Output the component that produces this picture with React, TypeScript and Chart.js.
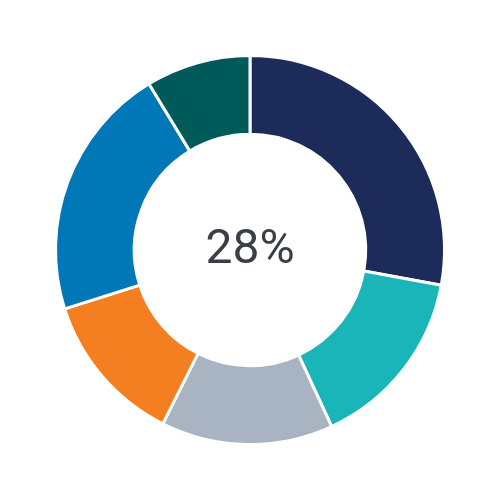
import { useEffect, useRef } from 'react'
import { Chart, registerables, Plugin } from 'chart.js'

Chart.register(...registerables)

const labels = ['Segment A', 'Segment B', 'Segment C', 'Segment D', 'Segment E', 'Segment F']
const values = [27.9, 15.2, 14.3, 12.7, 21.2, 8.7]
const colors = ['#1c2b5a', '#1ab5b8', '#a9b4c2', '#f47f20', '#0077b6', '#005a5a']
const centerLabel = '28%'

const centerText: Plugin<'doughnut'> = {
  id: 'centerText',
  afterDraw(chart) {
    const { ctx, chartArea } = chart
    const cx = (chartArea.left + chartArea.right) / 2
    const cy = (chartArea.top + chartArea.bottom) / 2
    ctx.save()
    ctx.font = '48px Roboto'
    ctx.fillStyle = '#3a3f47'
    ctx.textAlign = 'center'
    ctx.textBaseline = 'alphabetic'
    ctx.fillText(centerLabel, cx, cy + 13)
    ctx.restore()
  },
}

function Donut() {
  const canvasRef = useRef<HTMLCanvasElement>(null)
  const chartRef = useRef<Chart<'doughnut'> | null>(null)

  useEffect(() => {
    if (!canvasRef.current) return
    if (chartRef.current) chartRef.current.destroy()

    chartRef.current = new Chart(canvasRef.current, {
      type: 'doughnut',
      data: {
        labels,
        datasets: [
          {
            data: values,
            backgroundColor: colors,
            borderColor: '#ffffff',
            borderWidth: 3,
          },
        ],
      },
      options: {
        animation: false,
        responsive: true,
        maintainAspectRatio: false,
        cutout: '59.5%',
        layout: { padding: 54 },
        plugins: {
          legend: { display: false },
          tooltip: { enabled: false },
        },
      },
      plugins: [centerText],
    })

    return () => { chartRef.current?.destroy() }
  }, [])

  return <canvas ref={canvasRef} />
}

export default function App() {
  return (
    <div style={{ position: 'absolute', left: 0, top: 0, width: 500, height: 500, background: '#fff' }}>
      <Donut />
    </div>
  )
}
